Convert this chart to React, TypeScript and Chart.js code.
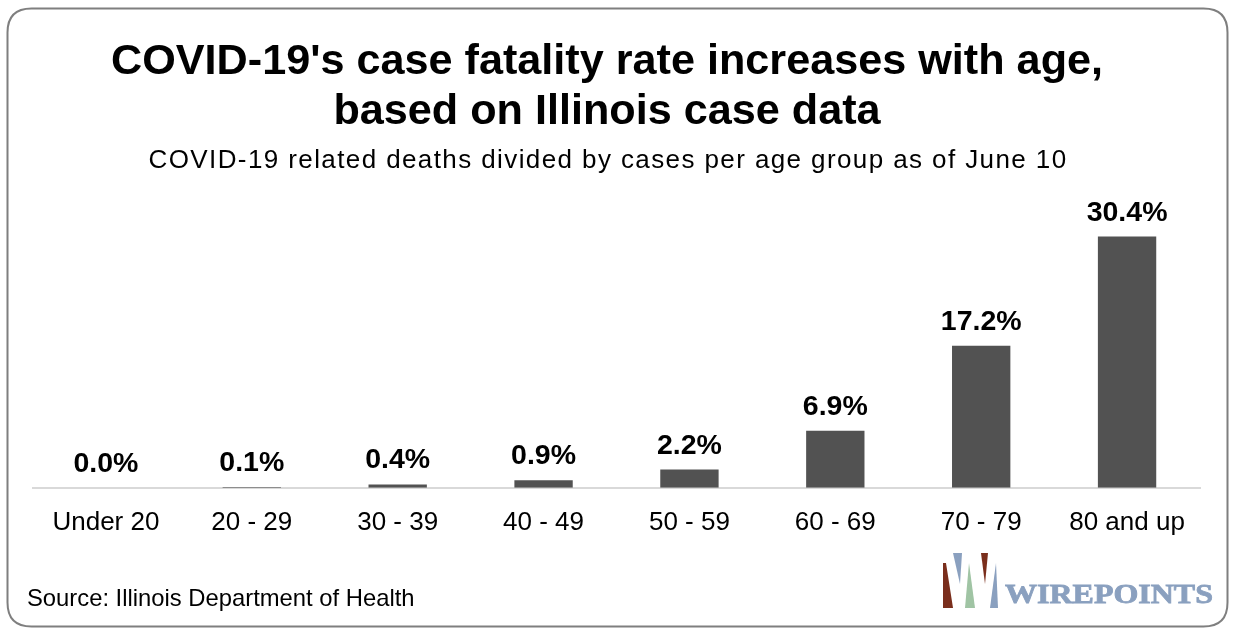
import React, { useEffect, useRef } from "react";
import { Chart, registerables } from "chart.js";

Chart.register(...registerables);

const categories = ["Under 20", "20 - 29", "30 - 39", "40 - 49", "50 - 59", "60 - 69", "70 - 79", "80 and up"];
const fatalityRates = [0.0, 0.1, 0.4, 0.9, 2.2, 6.9, 17.2, 30.4];
const titleLines = ["COVID-19's case fatality rate increases with age,", "based on Illinois case data"];
const subtitleText = "COVID-19 related deaths divided by cases per age group as of June 10";
const sourceText = "Source: Illinois Department of Health";
const logoText = "WIREPOINTS";

const FONT = '"Liberation Sans", Arial, Helvetica, sans-serif';

function roundRect(ctx: CanvasRenderingContext2D, x: number, y: number, w: number, h: number, r: number) {
  ctx.beginPath();
  ctx.moveTo(x + r, y);
  ctx.lineTo(x + w - r, y);
  ctx.quadraticCurveTo(x + w, y, x + w, y + r);
  ctx.lineTo(x + w, y + h - r);
  ctx.quadraticCurveTo(x + w, y + h, x + w - r, y + h);
  ctx.lineTo(x + r, y + h);
  ctx.quadraticCurveTo(x, y + h, x, y + h - r);
  ctx.lineTo(x, y + r);
  ctx.quadraticCurveTo(x, y, x + r, y);
  ctx.closePath();
}

function poly(ctx: CanvasRenderingContext2D, pts: number[][], color: string) {
  ctx.beginPath();
  ctx.moveTo(pts[0][0], pts[0][1]);
  for (let i = 1; i < pts.length; i++) ctx.lineTo(pts[i][0], pts[i][1]);
  ctx.closePath();
  ctx.fillStyle = color;
  ctx.fill();
}

const decorPlugin = {
  id: "decor",
  beforeDraw(chart: any) {
    const ctx: any = chart.ctx;
    const W = chart.width;
    const H = chart.height;
    ctx.save();
    ctx.fillStyle = "#ffffff";
    ctx.fillRect(0, 0, W, H);
    // border
    roundRect(ctx, 7.5, 8.5, 1220, 618, 24);
    ctx.strokeStyle = "#7f7f7f";
    ctx.lineWidth = 2;
    ctx.stroke();
    // title
    ctx.fillStyle = "#000000";
    ctx.textAlign = "center";
    ctx.textBaseline = "alphabetic";
    ctx.font = `bold 43.2px ${FONT}`;
    ctx.fillText(titleLines[0], 607, 74);
    ctx.fillText(titleLines[1], 607, 124);
    // subtitle (letter-spaced)
    ctx.font = `26px ${FONT}`;
    ctx.letterSpacing = "1.4px";
    ctx.fillText(subtitleText, 608, 168);
    ctx.letterSpacing = "0px";
    // source
    ctx.textAlign = "left";
    ctx.font = `23.8px ${FONT}`;
    ctx.fillText(sourceText, 27, 606);
    // logo
    const blue = "#8aa0bf";
    const red = "#7a2e1c";
    const green = "#a0c4a4";
    poly(ctx, [[943, 563], [946, 563], [953, 608], [943, 608]], red);
    poly(ctx, [[953, 553], [962, 553], [960, 584]], blue);
    poly(ctx, [[969, 563], [975, 608], [965, 608]], green);
    poly(ctx, [[981, 553], [988, 553], [985, 584]], red);
    poly(ctx, [[996, 563], [998, 608], [990, 608]], blue);
    ctx.save();
    ctx.font = `bold 28px "Liberation Serif", "DejaVu Serif", serif`;
    const tw = ctx.measureText(logoText).width;
    const sx = 208 / tw;
    ctx.translate(1005, 603);
    ctx.scale(sx, 1);
    ctx.fillStyle = blue;
    ctx.strokeStyle = blue;
    ctx.lineWidth = 0.8;
    ctx.textAlign = "left";
    ctx.fillText(logoText, 0, 0);
    ctx.strokeText(logoText, 0, 0);
    ctx.restore();
    ctx.restore();
  },
  afterDatasetsDraw(chart: any) {
    const ctx: CanvasRenderingContext2D = chart.ctx;
    const meta = chart.getDatasetMeta(0);
    ctx.save();
    ctx.fillStyle = "#000000";
    ctx.font = `bold 28.5px ${FONT}`;
    ctx.textAlign = "center";
    ctx.textBaseline = "alphabetic";
    meta.data.forEach((bar: any, i: number) => {
      const v = chart.data.datasets[0].data[i] as number;
      ctx.fillText(v.toFixed(1) + "%", bar.x, bar.y - 16);
    });
    ctx.restore();
  },
};

export default function App() {
  const canvasRef = useRef<HTMLCanvasElement | null>(null);
  useEffect(() => {
    const canvas = canvasRef.current;
    if (!canvas) return;
    const chart = new Chart(canvas, {
      type: "bar",
      data: {
        labels: categories,
        datasets: [
          {
            data: fatalityRates,
            backgroundColor: "#525252",
            borderWidth: 0,
            barPercentage: 0.4,
            categoryPercentage: 1,
          },
        ],
      },
      options: {
        responsive: false,
        animation: false,
        devicePixelRatio: 1,
        layout: { padding: { top: 198.5, bottom: 85, left: 33, right: 38 } },
        plugins: {
          legend: { display: false },
          title: { display: false },
          tooltip: { enabled: false },
        },
        scales: {
          x: {
            grid: { display: false, drawTicks: false },
            border: { display: true, color: "#d9d9d9", width: 2 },
            ticks: {
              color: "#000000",
              font: { family: FONT, size: 26 },
              padding: 19,
              maxRotation: 0,
              autoSkip: false,
            },
          },
          y: {
            display: false,
            min: 0,
            max: 35,
          },
        },
      },
      plugins: [decorPlugin],
    });
    return () => chart.destroy();
  }, []);
  return (
    <div style={{ position: "fixed", left: 0, top: 0, width: 1238, height: 642, background: "#fff" }}>
      <canvas ref={canvasRef} width={1238} height={642} style={{ width: 1238, height: 642, display: "block" }} />
    </div>
  );
}
